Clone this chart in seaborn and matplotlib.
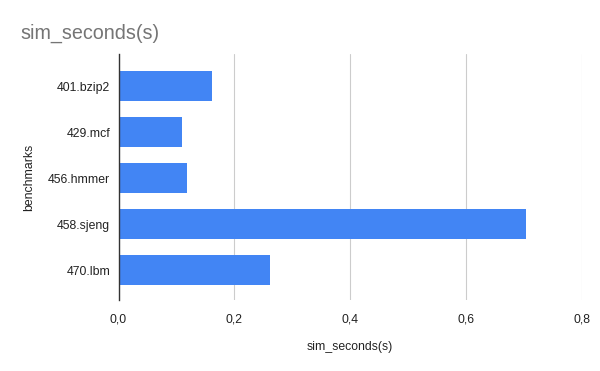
import matplotlib
matplotlib.use("Agg")
import matplotlib.pyplot as plt
import pandas as pd
import seaborn as sns
from matplotlib.ticker import FuncFormatter

benchmarks = ["401.bzip2", "429.mcf", "456.hmmer", "458.sjeng", "470.lbm"]
sim_seconds = [0.161, 0.109, 0.118, 0.704, 0.262]

sns.set_theme(style="white")
plt.rcParams['font.family'] = ['Liberation Sans', 'DejaVu Sans']

df = pd.DataFrame({"benchmarks": benchmarks, "sim_seconds(s)": sim_seconds})

fig = plt.figure(figsize=(6, 3.71), dpi=100)
ax = fig.add_axes([118.5 / 600, 1 - 300 / 371, (581.7 - 118.5) / 600, 246 / 371])

sns.barplot(data=df, x="sim_seconds(s)", y="benchmarks", color="#4285f4",
            saturation=1, width=0.66, linewidth=0, ax=ax)

ax.set_xlim(0, 0.8)
ax.set_ylim(4.65, -0.7)
ax.set_xticks([0, 0.2, 0.4, 0.6, 0.8])
ax.xaxis.set_major_formatter(FuncFormatter(lambda v, p: f"{v:.1f}".replace(".", ",")))
ax.grid(axis="x", color="#cccccc", linewidth=0.8)
ax.set_axisbelow(True)
for s in ["top", "right", "bottom"]:
    ax.spines[s].set_visible(False)
ax.spines["left"].set_color("#333333")
ax.spines["left"].set_linewidth(1)
ax.tick_params(axis="both", length=0, labelsize=8.8, colors="#222222", pad=6)
ax.tick_params(axis="x", pad=10)

ax.set_xlabel("sim_seconds(s)", fontsize=8.8, color="#222222", labelpad=11)
ax.set_ylabel("benchmarks", fontsize=8.8, color="#222222", labelpad=9)

fig.text(20 / 600, 1 - 33 / 371, "sim_seconds(s)", fontsize=14.2, color="#757575",
         va="center", ha="left")

fig.savefig("out.png", dpi=100)
